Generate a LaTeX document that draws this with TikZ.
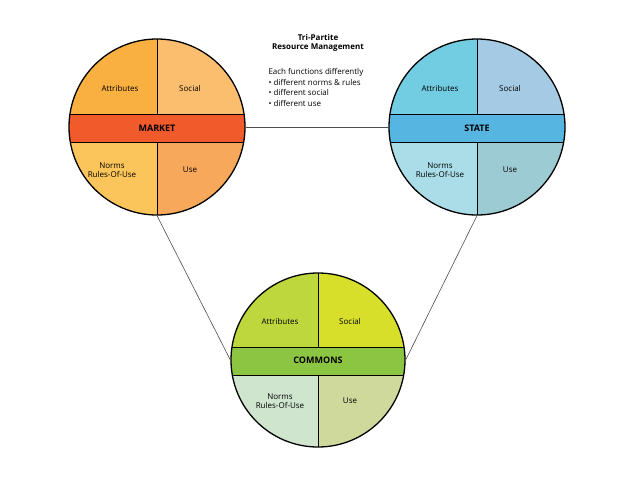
\documentclass[tikz,border=0pt]{standalone}
\usepackage{fontspec}
\setmainfont{Open Sans}
\begin{document}
\begin{tikzpicture}[x=1pt,y=-1pt,
  lbl/.style={font=\fontsize{8}{9.5}\selectfont,align=center},
  barlbl/.style={font=\fontsize{9}{10}\selectfont\bfseries},
  conn/.style={draw=black!70,line width=0.6pt}]
\useasboundingbox (0,0) rectangle (638,493);
\newcommand{\tripart}[9]{%
 % #1 name, #2 cx, #3 cy, #4 r, #5 attr col, #6 social col, #7 bar col, #8 norms col, #9 use col
 \begin{scope}
  \clip (#2,#3) circle (#4);
  \fill[#5] (#2-#4,#3-#4) rectangle (#2,#3);
  \fill[#6] (#2,#3-#4) rectangle (#2+#4,#3);
  \fill[#8] (#2-#4,#3) rectangle (#2,#3+#4);
  \fill[#9] (#2,#3) rectangle (#2+#4,#3+#4);
  \draw[line width=1pt] (#2,#3-#4) -- (#2,#3+#4);
  \fill[#7,draw=black,line width=1pt] (#2-#4-2,#3-13) rectangle (#2+#4+2,#3+15);
 \end{scope}
 \node[circle,draw,line width=1.3pt,minimum size=2*#4,inner sep=0] (#1) at (#2,#3) {};
}
\definecolor{mA}{HTML}{F9B041}\definecolor{mS}{HTML}{FBBE6E}\definecolor{mB}{HTML}{F15A2B}
\definecolor{mN}{HTML}{FCC55B}\definecolor{mU}{HTML}{F7A85A}
\definecolor{sA}{HTML}{72CDE2}\definecolor{sS}{HTML}{A5CAE3}\definecolor{sB}{HTML}{56B5E1}
\definecolor{sN}{HTML}{AADDE7}\definecolor{sU}{HTML}{9DCBD4}
\definecolor{cA}{HTML}{BED73C}\definecolor{cS}{HTML}{D7DF2B}\definecolor{cB}{HTML}{8CC542}
\definecolor{cN}{HTML}{CFE5CE}\definecolor{cU}{HTML}{CFD99C}

\tripart{market}{157}{127}{88}{mA}{mS}{mB}{mN}{mU}
\tripart{state}{477}{127}{88}{sA}{sS}{sB}{sN}{sU}
\tripart{commons}{318}{360}{87}{cA}{cS}{cB}{cN}{cU}

\node[barlbl] (mbar) at (157,128) {MARKET};
\node[barlbl] (sbar) at (477,128) {STATE};
\node[barlbl] (cbar) at (318,360) {COMMONS};

\node[lbl] (ma) at (120,88) {Attributes};
\node[lbl] (ms) at (190,88) {Social};
\node[lbl] (mn) at (112,170) {Norms\\Rules-Of-Use};
\node[lbl] (mu) at (190,170) {Use};
\node[lbl] (sa) at (440,88) {Attributes};
\node[lbl] (ss) at (510,88) {Social};
\node[lbl] (sn) at (440,170) {Norms\\Rules-Of-Use};
\node[lbl] (su) at (510,170) {Use};
\node[lbl] (ca) at (280,321) {Attributes};
\node[lbl] (cs) at (350,321) {Social};
\node[lbl] (cn) at (280,401) {Norms\\Rules-Of-Use};
\node[lbl] (cu) at (350,401) {Use};

\draw[conn] (market.east) -- (state.west);
\draw[conn] (market.south) -- (commons.west);
\draw[conn] (state.south) -- (commons.east);

\node[font=\fontsize{8}{9.5}\selectfont\bfseries,align=center] (title) at (318,43) {Tri-Partite\\Resource Management};
\node[font=\fontsize{8}{10.5}\selectfont,align=left,anchor=north west] (desc) at (265,65)
 {Each functions differently\\• different norms \& rules\\• different social\\• different use};
\end{tikzpicture}
\end{document}
